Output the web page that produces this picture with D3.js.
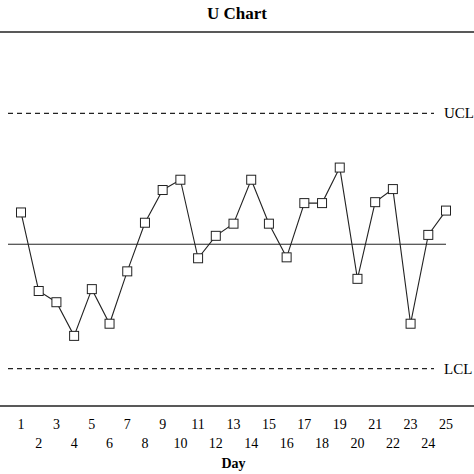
<!DOCTYPE html><html><head><meta charset="utf-8">
<script src="https://cdn.jsdelivr.net/npm/d3@7"></script>
<style>body{margin:0;background:#fff}</style></head><body><svg width="474" height="474"></svg>
<script>
const days=d3.range(1,26);
const values=[0.207,0.123,0.111,0.075,0.125,0.088,0.144,0.196,0.231,0.242,0.158,0.182,0.195,0.242,0.195,0.159,0.217,0.217,0.255,0.136,0.218,0.232,0.088,0.183,0.209];
const UCL=0.313, CL=0.173, LCL=0.040;
const svg=d3.select("svg");
const font="Liberation Serif, serif";
const x=d3.scaleLinear().domain([1,25]).range([21,446]);
const y=d3.scaleLinear().domain([0,0.4]).range([406,32]);
svg.append("text").attr("x",237).attr("y",19).attr("text-anchor","middle").attr("font-family",font).attr("font-weight","bold").attr("font-size",17).text("U Chart");
[32,406].forEach(v=>svg.append("line").attr("x1",0).attr("x2",474).attr("y1",v).attr("y2",v).attr("stroke","#222").attr("stroke-width",1.3));
[UCL,LCL].forEach(v=>svg.append("line").attr("x1",8).attr("x2",434).attr("y1",y(v)).attr("y2",y(v)).attr("stroke","#222").attr("stroke-dasharray","5,4").attr("stroke-width",1.2));
svg.append("line").attr("x1",8).attr("x2",446).attr("y1",y(CL)).attr("y2",y(CL)).attr("stroke","#222").attr("stroke-width",1);
svg.append("text").attr("x",444).attr("y",y(UCL)+5).attr("font-family",font).attr("font-size",15).text("UCL");
svg.append("text").attr("x",444).attr("y",y(LCL)+5).attr("font-family",font).attr("font-size",15).text("LCL");
const data=days.map((d,i)=>({d,v:values[i]}));
svg.append("path").datum(data).attr("d",d3.line().x(p=>x(p.d)).y(p=>y(p.v))).attr("fill","none").attr("stroke","#222").attr("stroke-width",1.1);
svg.selectAll("rect.p").data(data).join("rect").attr("x",p=>x(p.d)-4.5).attr("y",p=>y(p.v)-4.5).attr("width",9).attr("height",9).attr("fill","#fff").attr("stroke","#222").attr("stroke-width",1);
svg.selectAll("text.t").data(days).join("text").attr("x",d=>x(d)).attr("y",d=>d%2?429:448).attr("text-anchor","middle").attr("font-family",font).attr("font-size",14).text(d=>d);
svg.append("text").attr("x",x(13)).attr("y",468).attr("text-anchor","middle").attr("font-family",font).attr("font-weight","bold").attr("font-size",14).text("Day");
</script></body></html>
